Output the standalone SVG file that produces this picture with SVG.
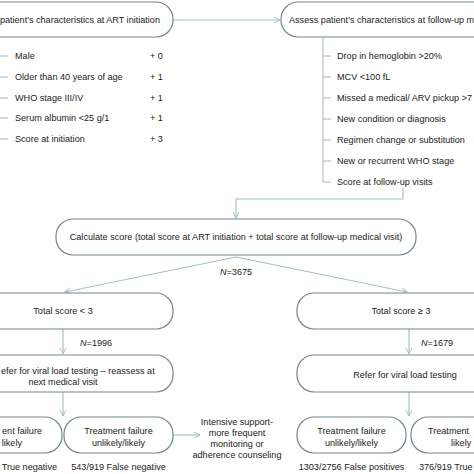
<svg xmlns="http://www.w3.org/2000/svg" width="474" height="474" viewBox="0 0 474 474">
<defs>
<marker id="ah" markerWidth="8" markerHeight="8" refX="6" refY="3" orient="auto" markerUnits="userSpaceOnUse">
<path d="M0,0 L6,3 L0,6" fill="none" stroke="#a6c0c6" stroke-width="1"/>
</marker>
<style>
text{font-family:"Liberation Sans",Arial,sans-serif;font-size:9.1px;fill:#222}
.box{fill:#fff;stroke:#75858b;stroke-width:1.2}
.c{fill:none;stroke:#a6c0c6;stroke-width:1.2}
.t{stroke:#a6b4b8;stroke-width:1}
.m{text-anchor:middle}
.e{text-anchor:end}
</style>
</defs>
<rect width="474" height="474" fill="#fff"/>

<g id="connectors">
<line class="c" x1="173" y1="20" x2="280" y2="20" marker-end="url(#ah)"/>
<line class="t" x1="0" y1="56" x2="8" y2="56"/>
<line class="t" x1="0" y1="77" x2="8" y2="77"/>
<line class="t" x1="0" y1="98" x2="8" y2="98"/>
<line class="t" x1="0" y1="118" x2="8" y2="118"/>
<line class="t" x1="0" y1="139" x2="8" y2="139"/>
<path class="t" fill="none" d="M323,37 V182 M323,56 H331 M323,77 H331 M323,98 H331 M323,119 H331 M323,140 H331 M323,161 H331 M323,182 H331"/>
<path class="c" d="M403,188 V199 H236 V218" marker-end="url(#ah)"/>
<line class="c" x1="236" y1="257" x2="65" y2="292" marker-end="url(#ah)"/>
<line class="c" x1="236" y1="257" x2="407" y2="292" marker-end="url(#ah)"/>
<line class="c" x1="63" y1="329" x2="63" y2="354" marker-end="url(#ah)"/>
<line class="c" x1="63" y1="392" x2="63" y2="416" marker-end="url(#ah)"/>
<line class="c" x1="173" y1="435" x2="200" y2="435" marker-end="url(#ah)"/>
<line class="c" x1="409" y1="329" x2="409" y2="354" marker-end="url(#ah)"/>
<line class="c" x1="409" y1="392" x2="409" y2="416" marker-end="url(#ah)"/>
</g>

<g id="art-initiation">
<rect class="box" x="-200" y="2" width="373" height="35" rx="17"/>
<text x="160" y="23.3" class="e">patient's characteristics at ART initiation</text>
</g>
<g id="art-list">
<text x="15" y="59.3">Male</text><text x="150" y="59.3">+ 0</text>
<text x="15" y="80.3">Older than 40 years of age</text><text x="150" y="80.3">+ 1</text>
<text x="15" y="101.3">WHO stage III/IV</text><text x="150" y="101.3">+ 1</text>
<text x="15" y="121.3">Serum albumin &lt;25 g/1</text><text x="150" y="121.3">+ 1</text>
<text x="15" y="142.3">Score at initiation</text><text x="150" y="142.3">+ 3</text>
</g>

<g id="followup">
<rect class="box" x="281" y="2" width="400" height="35" rx="17"/>
<text x="289" y="23.3">Assess patient's characteristics at follow-up m</text>
</g>
<g id="followup-list">
<text x="337" y="59.3">Drop in hemoglobin &gt;20%</text>
<text x="337" y="80.3">MCV &lt;100 fL</text>
<text x="337" y="101.3">Missed a medical/ ARV pickup &gt;7</text>
<text x="337" y="122.3">New condition or diagnosis</text>
<text x="337" y="143.3">Regimen change or substitution</text>
<text x="337" y="164.3">New or recurrent WHO stage</text>
<text x="337" y="185.3">Score at follow-up visits</text>
</g>

<g id="calculate">
<rect class="box" x="56" y="219" width="360" height="36" rx="17"/>
<text x="236" y="240.3" class="m">Calculate score (total score at ART initiation + total score at follow-up medical visit)</text>
</g>
<text x="236" y="275" class="m"><tspan font-style="italic">N</tspan>=3675</text>

<g id="low-score">
<rect class="box" x="-200" y="293" width="373" height="36" rx="17"/>
<text x="63" y="314.3" class="m">Total score &lt; 3</text>
</g>
<text x="80" y="346.3"><tspan font-style="italic">N</tspan>=1996</text>
<g id="refer-reassess">
<rect class="box" x="-200" y="355" width="373" height="37" rx="17"/>
<text x="1" y="374" >efer for viral load testing – reassess at</text>
<text x="63" y="385" class="m">next medical visit</text>
</g>
<g id="tn-box">
<rect class="box" x="-50" y="417" width="112" height="36" rx="17"/>
<text x="42" y="434" class="e">ent failure</text>
<text x="22" y="445.5" class="e">likely</text>
</g>
<text x="57" y="469.5" class="e">True negative</text>
<g id="fn-box">
<rect class="box" x="64" y="417" width="109" height="36" rx="17"/>
<text x="118.5" y="434" class="m">Treatment failure</text>
<text x="118.5" y="445.5" class="m">unlikely/likely</text>
</g>
<text x="118.5" y="469.5" class="m">543/919 False negative</text>
<g id="intensive">
<text x="237" y="425" class="m">Intensive support-</text>
<text x="237" y="436" class="m">more frequent</text>
<text x="237" y="447" class="m">monitoring or</text>
<text x="237" y="458" class="m">adherence counseling</text>
</g>

<g id="high-score">
<rect class="box" x="297" y="293" width="400" height="36" rx="17"/>
<text x="401" y="314.3" class="m">Total score ≥ 3</text>
</g>
<text x="421" y="346.3"><tspan font-style="italic">N</tspan>=1679</text>
<g id="refer">
<rect class="box" x="297" y="355" width="400" height="37" rx="17"/>
<text x="405" y="378" class="m">Refer for viral load testing</text>
</g>
<g id="fp-box">
<rect class="box" x="297" y="417" width="109" height="36" rx="17"/>
<text x="351.5" y="434" class="m">Treatment failure</text>
<text x="351.5" y="445.5" class="m">unlikely/likely</text>
</g>
<text x="351.5" y="469.5" class="m">1303/2756 False positives</text>
<g id="tp-box">
<rect class="box" x="411" y="417" width="109" height="36" rx="17"/>
<text x="428" y="434">Treatment</text>
<text x="451" y="445.5">likely</text>
</g>
<text x="419" y="469.5">376/919 True</text>
</svg>
